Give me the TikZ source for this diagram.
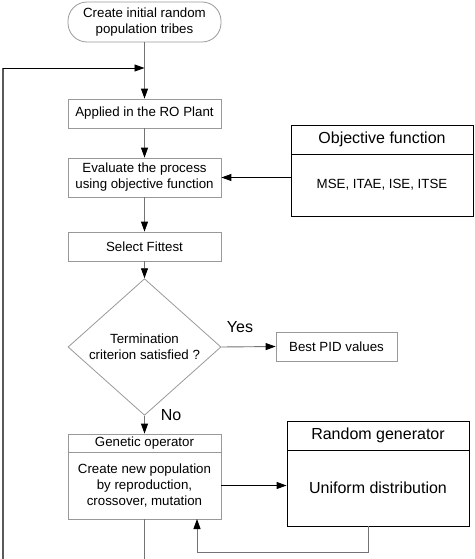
\documentclass[tikz,border=0pt]{standalone}
\usepackage{fontspec}
\setmainfont{Liberation Sans}
\usetikzlibrary{shapes.geometric,arrows.meta}
\tikzset{
    every node/.style={inner sep=0mm, font=\fontsize{13.3}{16}\selectfont, align=center},
    box/.style={draw=black!40, line width=0.8pt, minimum width=153pt},
    bigbox/.style={draw=black, line width=0.9pt, minimum width=182pt},
    tip/.style={-{Triangle[length=10pt,width=7pt,color=black]}},
    vline/.style={draw=black!55, line width=0.9pt},
    hline/.style={draw=black, line width=0.9pt}
}

\begin{document}
\begin{tikzpicture}[x=1pt, y=-1pt]
    \useasboundingbox (0,0) rectangle (474,559);

    \node (start) [box, rounded corners=19pt, minimum height=40pt] at (144.5,22) {Create initial random\\population tribes};
    \node (apply) [box, minimum height=29pt] at (144.5,113.5) {Applied in the RO Plant};
    \node (eval) [box, minimum height=39pt] at (144.5,177.5) {Evaluate the process\\using objective function};
    \node (select) [box, minimum height=29pt] at (144.5,246.5) {Select Fittest};
    \node (term) [diamond, draw=black!40, line width=0.8pt, minimum width=153pt, minimum height=103pt] at (144.5,347) {Termination\\criterion satisfied ?};
    \node (best) [box, minimum width=121pt, minimum height=29pt] at (336.5,346.5) {Best PID values};
    \node (genhead) [box, minimum height=18pt] at (144.5,443) {Genetic operator};
    \node (genbody) [box, minimum height=67pt] at (144.5,485.5) {Create new population\\by reproduction,\\crossover, mutation};

    \node (objhead) [bigbox, minimum height=29pt, font=\fontsize{16}{19}\selectfont] at (382,139.5) {Objective function};
    \node (objbody) [bigbox, minimum height=62pt] at (382,185) {MSE, ITAE, ISE, ITSE};
    \node (randhead) [bigbox, minimum height=29pt, font=\fontsize{16}{19}\selectfont] at (378,435.5) {Random generator};
    \node (randbody) [bigbox, minimum height=76pt, font=\fontsize{16}{19}\selectfont] at (378,488) {Uniform distribution};

    \node (yes) [font=\fontsize{16}{19}\selectfont] at (240,327) {Yes};
    \node (no) [font=\fontsize{16}{19}\selectfont] at (171,415) {No};

    \coordinate (loopbot) at (3,559);
    \coordinate (loopcorner) at (3,68);
    \coordinate (loopin) at (144.5,68);
    \coordinate (genout) at (144.5,559);
    \coordinate (randout) at (368,526);
    \coordinate (backbot) at (368,552);
    \coordinate (backcorner) at (197,552);
    \coordinate (backin) at (197,519);

    % main column
    \draw [vline, tip] (start) -- (apply);
    \draw [vline, tip] (apply) -- (eval);
    \draw [vline, tip] (eval) -- (select);
    \draw [vline, tip] (select) -- (term);
    \draw [vline, tip] (term) -- (genhead);
    \draw [vline] (genbody) -- (genout);

    % loop back
    \draw [draw=black!65, line width=2pt] (loopbot) -- (loopcorner);
    \draw [hline, tip] (loopcorner) -- (loopin);

    % side boxes
    \draw [hline, tip] (eval.east -| objbody.west) -- (eval.east);
    \draw [vline, tip] (term.east) -- (best.west);
    \draw [hline, tip] (genbody.east) -- (genbody.east -| randbody.west);
    \draw [vline, tip] (randout) -- (backbot) -- (backcorner) -- (backin);
\end{tikzpicture}
\end{document}
